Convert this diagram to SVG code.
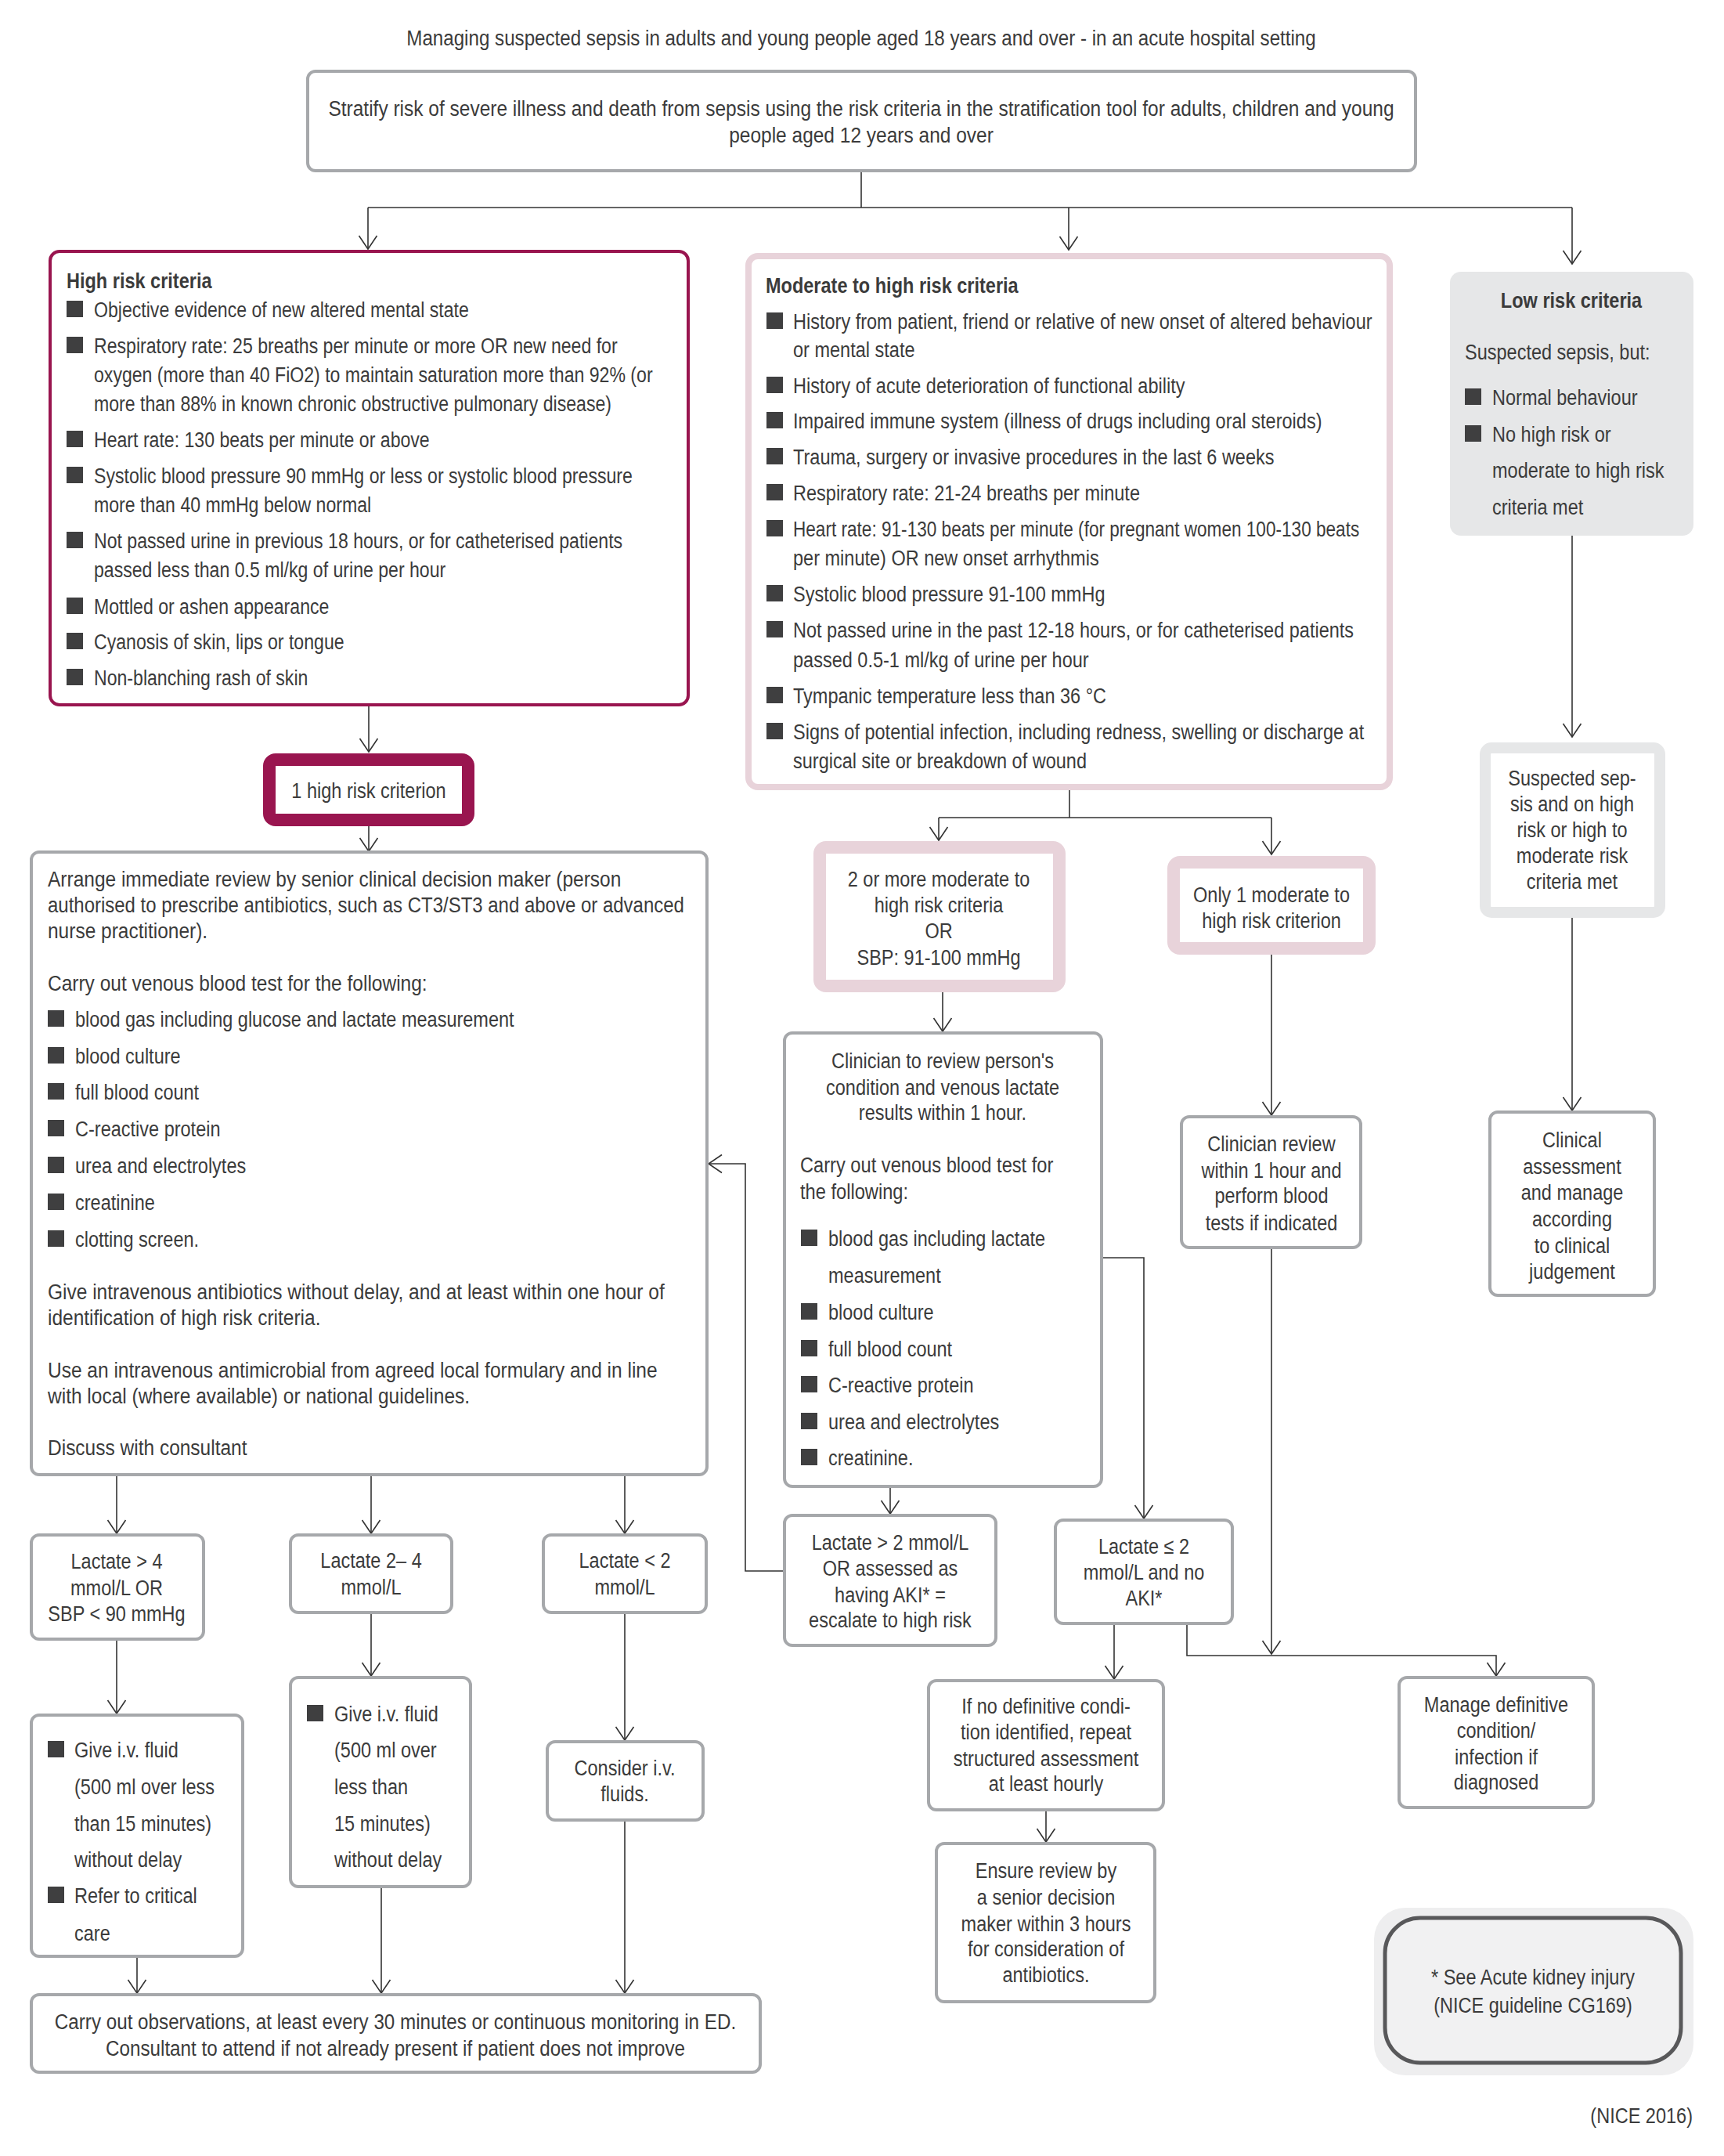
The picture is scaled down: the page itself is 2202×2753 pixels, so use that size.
<svg xmlns="http://www.w3.org/2000/svg" width="2202" height="2753" viewBox="0 0 2202 2753">
<style>
.t{font-family:"Liberation Sans",Arial,sans-serif;font-size:28px;fill:#3b3b3b}
.b{font-weight:bold}
.m{text-anchor:middle}
.e{text-anchor:end}
.box{fill:#fff;stroke:#a6a8ab;stroke-width:4}
.hr{fill:#fff;stroke:#99154f;stroke-width:4}
.hr2{fill:#fff;stroke:#99154f;stroke-width:16}
.pk{fill:#fff;stroke:#e8d3da;stroke-width:8}
.pk2{fill:#fff;stroke:#e8d3da;stroke-width:16}
.gy{fill:#fff;stroke:#e6e7e8;stroke-width:14}
.sq{fill:#3f3f40}
.ln{fill:none;stroke:#333;stroke-width:1.6}
.ar{fill:none;stroke:#333;stroke-width:1.6;marker-end:url(#ah)}
</style>
<defs>
<marker id="ah" viewBox="-19 -13 21 26" refX="0" refY="0" markerWidth="21" markerHeight="26" markerUnits="userSpaceOnUse" orient="auto">
<path d="M-17,-11.5 L0,0 L-17,11.5" fill="none" stroke="#333" stroke-width="1.6"/>
</marker>
</defs>
<rect width="2202" height="2753" fill="#fff"/>

<text class="t m" transform="translate(1100,58) scale(0.863,1)">Managing suspected sepsis in adults and young people aged 18 years and over - in an acute hospital setting</text>

<g id="connectors">
<path class="ln" d="M1100,219 V265 M470,265 H2008"/>
<path class="ar" d="M470,265 V318"/>
<path class="ar" d="M1365,265 V319"/>
<path class="ar" d="M2008,265 V337"/>
<path class="ar" d="M471,900 V960"/>
<path class="ar" d="M471,1055 V1087"/>
<path class="ar" d="M149,1884 V1958"/>
<path class="ar" d="M474,1884 V1958"/>
<path class="ar" d="M798,1884 V1958"/>
<path class="ar" d="M149,2093 V2188"/>
<path class="ar" d="M474,2059 V2140"/>
<path class="ar" d="M798,2059 V2222"/>
<path class="ar" d="M175,2498 V2545"/>
<path class="ar" d="M487,2409 V2545"/>
<path class="ar" d="M798,2324 V2545"/>
<path class="ln" d="M1366,1009 V1044 M1199,1044 H1624"/>
<path class="ar" d="M1199,1044 V1073"/>
<path class="ar" d="M1624,1044 V1091"/>
<path class="ar" d="M1204,1267 V1317"/>
<path class="ar" d="M1624,1219 V1424"/>
<path class="ar" d="M2008,684 V941"/>
<path class="ar" d="M2008,1172 V1418"/>
<path class="ar" d="M1407,1606 H1461 V1939"/>
<path class="ar" d="M1137,1898 V1933"/>
<path class="ar" d="M1002,2006 H952 V1486 H905"/>
<path class="ar" d="M1423,2073 V2144"/>
<path class="ar" d="M1516,2073 V2114 H1911 V2140"/>
<path class="ar" d="M1624,1593 V2112"/>
<path class="ar" d="M1336,2311 V2352"/>
</g>

<g id="stratify">
<rect class="box" x="393" y="91" width="1415" height="127" rx="10" stroke-width="4.5"/>
<text class="t m" transform="translate(1100,148) scale(0.875,1)"><tspan x="0" y="0">Stratify risk of severe illness and death from sepsis using the risk criteria in the stratification tool for adults, children and young</tspan><tspan x="0" y="34">people aged 12 years and over</tspan></text>
</g>

<g id="high-risk">
<rect class="hr" x="64" y="321" width="815" height="579" rx="12"/>
<text class="t b" transform="translate(85,368) scale(0.84,1)">High risk criteria</text>
<rect class="sq" x="85" y="384" width="21" height="21"/>
<rect class="sq" x="85" y="430" width="21" height="21"/>
<rect class="sq" x="85" y="550" width="21" height="21"/>
<rect class="sq" x="85" y="596" width="21" height="21"/>
<rect class="sq" x="85" y="679" width="21" height="21"/>
<rect class="sq" x="85" y="763" width="21" height="21"/>
<rect class="sq" x="85" y="808" width="21" height="21"/>
<rect class="sq" x="85" y="854" width="21" height="21"/>
<text class="t" transform="translate(120,405) scale(0.825,1)">Objective evidence of new altered mental state</text>
<text class="t" transform="translate(120,451) scale(0.825,1)"><tspan x="0" y="0">Respiratory rate: 25 breaths per minute or more OR new need for</tspan><tspan x="0" y="37">oxygen (more than 40 FiO2) to maintain saturation more than 92% (or</tspan><tspan x="0" y="74">more than 88% in known chronic obstructive pulmonary disease)</tspan></text>
<text class="t" transform="translate(120,571) scale(0.825,1)">Heart rate: 130 beats per minute or above</text>
<text class="t" transform="translate(120,617) scale(0.825,1)"><tspan x="0" y="0">Systolic blood pressure 90 mmHg or less or systolic blood pressure</tspan><tspan x="0" y="37">more than 40 mmHg below normal</tspan></text>
<text class="t" transform="translate(120,700) scale(0.825,1)"><tspan x="0" y="0">Not passed urine in previous 18 hours, or for catheterised patients</tspan><tspan x="0" y="37">passed less than 0.5 ml/kg of urine per hour</tspan></text>
<text class="t" transform="translate(120,784) scale(0.825,1)">Mottled or ashen appearance</text>
<text class="t" transform="translate(120,829) scale(0.825,1)">Cyanosis of skin, lips or tongue</text>
<text class="t" transform="translate(120,875) scale(0.825,1)">Non-blanching rash of skin</text>
</g>

<g id="one-high-risk">
<rect class="hr2" x="344" y="970" width="254" height="77" rx="8"/>
<text class="t m" transform="translate(471,1019) scale(0.84,1)">1 high risk criterion</text>
</g>

<g id="immediate-review">
<rect class="box" x="40" y="1088" width="863" height="795" rx="10"/>
<text class="t" transform="translate(61,1132) scale(0.875,1)"><tspan x="0" y="0">Arrange immediate review by senior clinical decision maker (person</tspan><tspan x="0" y="33" textLength="929" lengthAdjust="spacingAndGlyphs">authorised to prescribe antibiotics, such as CT3/ST3 and above or advanced</tspan><tspan x="0" y="66">nurse practitioner).</tspan><tspan x="0" y="133">Carry out venous blood test for the following:</tspan></text>
<rect class="sq" x="61" y="1290" width="21" height="21"/>
<rect class="sq" x="61" y="1337" width="21" height="21"/>
<rect class="sq" x="61" y="1383" width="21" height="21"/>
<rect class="sq" x="61" y="1430" width="21" height="21"/>
<rect class="sq" x="61" y="1477" width="21" height="21"/>
<rect class="sq" x="61" y="1524" width="21" height="21"/>
<rect class="sq" x="61" y="1571" width="21" height="21"/>
<text class="t" transform="translate(96,1311) scale(0.84,1)">blood gas including glucose and lactate measurement</text>
<text class="t" transform="translate(96,1358) scale(0.84,1)">blood culture</text>
<text class="t" transform="translate(96,1404) scale(0.84,1)">full blood count</text>
<text class="t" transform="translate(96,1451) scale(0.84,1)">C-reactive protein</text>
<text class="t" transform="translate(96,1498) scale(0.84,1)">urea and electrolytes</text>
<text class="t" transform="translate(96,1545) scale(0.84,1)">creatinine</text>
<text class="t" transform="translate(96,1592) scale(0.84,1)">clotting screen.</text>
<text class="t" transform="translate(61,1659) scale(0.875,1)"><tspan x="0" y="0">Give intravenous antibiotics without delay, and at least within one hour of</tspan><tspan x="0" y="33">identification of high risk criteria.</tspan><tspan x="0" y="100">Use an intravenous antimicrobial from agreed local formulary and in line</tspan><tspan x="0" y="133">with local (where available) or national guidelines.</tspan><tspan x="0" y="199">Discuss with consultant</tspan></text>
</g>

<g id="lactate-gt4">
<rect class="box" x="40" y="1960" width="220" height="133" rx="10"/>
<text class="t m" transform="translate(149,2003) scale(0.84,1)"><tspan x="0" y="0">Lactate &gt; 4</tspan><tspan x="0" y="34">mmol/L OR</tspan><tspan x="0" y="67">SBP &lt; 90 mmHg</tspan></text>
</g>
<g id="lactate-2-4">
<rect class="box" x="371" y="1960" width="206" height="99" rx="10"/>
<text class="t m" transform="translate(474,2002) scale(0.84,1)"><tspan x="0" y="0">Lactate 2– 4</tspan><tspan x="0" y="34">mmol/L</tspan></text>
</g>
<g id="lactate-lt2">
<rect class="box" x="694" y="1960" width="208" height="99" rx="10"/>
<text class="t m" transform="translate(798,2002) scale(0.84,1)"><tspan x="0" y="0">Lactate &lt; 2</tspan><tspan x="0" y="34">mmol/L</tspan></text>
</g>

<g id="fluid-critical">
<rect class="box" x="40" y="2190" width="270" height="308" rx="10"/>
<rect class="sq" x="61" y="2223" width="21" height="21"/>
<rect class="sq" x="61" y="2409" width="21" height="21"/>
<text class="t" transform="translate(95,2244) scale(0.84,1)"><tspan x="0" y="0">Give i.v. fluid</tspan><tspan x="0" y="47">(500 ml over less</tspan><tspan x="0" y="94">than 15 minutes)</tspan><tspan x="0" y="140">without delay</tspan><tspan x="0" y="186">Refer to critical</tspan><tspan x="0" y="234">care</tspan></text>
</g>
<g id="fluid">
<rect class="box" x="371" y="2142" width="230" height="267" rx="10"/>
<rect class="sq" x="392" y="2177" width="21" height="21"/>
<text class="t" transform="translate(427,2198) scale(0.84,1)"><tspan x="0" y="0">Give i.v. fluid</tspan><tspan x="0" y="46">(500 ml over</tspan><tspan x="0" y="93">less than</tspan><tspan x="0" y="140">15 minutes)</tspan><tspan x="0" y="186">without delay</tspan></text>
</g>
<g id="consider-fluids">
<rect class="box" x="699" y="2224" width="199" height="100" rx="10"/>
<text class="t m" transform="translate(798,2267) scale(0.84,1)"><tspan x="0" y="0">Consider i.v.</tspan><tspan x="0" y="33">fluids.</tspan></text>
</g>
<g id="observations">
<rect class="box" x="40" y="2547" width="931" height="99" rx="10"/>
<text class="t m" transform="translate(505,2591) scale(0.865,1)"><tspan x="0" y="0">Carry out observations, at least every 30 minutes or continuous monitoring in ED.</tspan><tspan x="0" y="34">Consultant to attend if not already present if patient does not improve</tspan></text>
</g>

<g id="moderate-risk">
<rect class="pk" x="956" y="327" width="819" height="678" rx="12"/>
<text class="t b" transform="translate(978,374) scale(0.84,1)">Moderate to high risk criteria</text>
<rect class="sq" x="979" y="399" width="21" height="21"/>
<rect class="sq" x="979" y="481" width="21" height="21"/>
<rect class="sq" x="979" y="526" width="21" height="21"/>
<rect class="sq" x="979" y="572" width="21" height="21"/>
<rect class="sq" x="979" y="618" width="21" height="21"/>
<rect class="sq" x="979" y="664" width="21" height="21"/>
<rect class="sq" x="979" y="747" width="21" height="21"/>
<rect class="sq" x="979" y="793" width="21" height="21"/>
<rect class="sq" x="979" y="877" width="21" height="21"/>
<rect class="sq" x="979" y="923" width="21" height="21"/>
<text class="t" transform="translate(1013,420) scale(0.84,1)"><tspan x="0" y="0">History from patient, friend or relative of new onset of altered behaviour</tspan><tspan x="0" y="36">or mental state</tspan></text>
<text class="t" transform="translate(1013,502) scale(0.84,1)">History of acute deterioration of functional ability</text>
<text class="t" transform="translate(1013,547) scale(0.84,1)">Impaired immune system (illness of drugs including oral steroids)</text>
<text class="t" transform="translate(1013,593) scale(0.84,1)">Trauma, surgery or invasive procedures in the last 6 weeks</text>
<text class="t" transform="translate(1013,639) scale(0.84,1)">Respiratory rate: 21-24 breaths per minute</text>
<text class="t" transform="translate(1013,685) scale(0.84,1)"><tspan x="0" y="0" textLength="861" lengthAdjust="spacingAndGlyphs">Heart rate: 91-130 beats per minute (for pregnant women 100-130 beats</tspan><tspan x="0" y="37">per minute) OR new onset arrhythmis</tspan></text>
<text class="t" transform="translate(1013,768) scale(0.84,1)">Systolic blood pressure 91-100 mmHg</text>
<text class="t" transform="translate(1013,814) scale(0.84,1)"><tspan x="0" y="0">Not passed urine in the past 12-18 hours, or for catheterised patients</tspan><tspan x="0" y="38">passed 0.5-1 ml/kg of urine per hour</tspan></text>
<text class="t" transform="translate(1013,898) scale(0.84,1)">Tympanic temperature less than 36 °C</text>
<text class="t" transform="translate(1013,944) scale(0.84,1)"><tspan x="0" y="0">Signs of potential infection, including redness, swelling or discharge at</tspan><tspan x="0" y="37">surgical site or breakdown of wound</tspan></text>
</g>

<g id="low-risk">
<rect x="1852" y="347" width="311" height="337" rx="14" fill="#e6e7e8"/>
<text class="t b m" transform="translate(2007,393) scale(0.84,1)">Low risk criteria</text>
<text class="t" transform="translate(1871,459) scale(0.84,1)">Suspected sepsis, but:</text>
<rect class="sq" x="1871" y="496" width="21" height="21"/>
<rect class="sq" x="1871" y="543" width="21" height="21"/>
<text class="t" transform="translate(1906,517) scale(0.84,1)">Normal behaviour</text>
<text class="t" transform="translate(1906,564) scale(0.84,1)"><tspan x="0" y="0">No high risk or</tspan><tspan x="0" y="46">moderate to high risk</tspan><tspan x="0" y="93">criteria met</tspan></text>
</g>

<g id="suspected-sepsis">
<rect class="gy" x="1897" y="955" width="223" height="210" rx="8"/>
<text class="t m" transform="translate(2008,1003) scale(0.84,1)"><tspan x="0" y="0">Suspected sep-</tspan><tspan x="0" y="33">sis and on high</tspan><tspan x="0" y="66">risk or high to</tspan><tspan x="0" y="99">moderate risk</tspan><tspan x="0" y="132">criteria met</tspan></text>
</g>

<g id="clinical-assessment">
<rect class="box" x="1903" y="1420" width="210" height="234" rx="10"/>
<text class="t m" transform="translate(2008,1465) scale(0.84,1)"><tspan x="0" y="0">Clinical</tspan><tspan x="0" y="34">assessment</tspan><tspan x="0" y="67">and manage</tspan><tspan x="0" y="101">according</tspan><tspan x="0" y="135">to clinical</tspan><tspan x="0" y="168">judgement</tspan></text>
</g>

<g id="two-or-more">
<rect class="pk2" x="1047" y="1082" width="306" height="177" rx="8"/>
<text class="t m" transform="translate(1199,1132) scale(0.84,1)"><tspan x="0" y="0">2 or more moderate to</tspan><tspan x="0" y="33">high risk criteria</tspan><tspan x="0" y="66">OR</tspan><tspan x="0" y="100">SBP: 91-100 mmHg</tspan></text>
</g>

<g id="only-one">
<rect class="pk2" x="1499" y="1101" width="250" height="110" rx="8"/>
<text class="t m" transform="translate(1624,1152) scale(0.84,1)"><tspan x="0" y="0">Only 1 moderate to</tspan><tspan x="0" y="33">high risk criterion</tspan></text>
</g>

<g id="clinician-review-lactate">
<rect class="box" x="1002" y="1319" width="405" height="579" rx="10"/>
<text class="t m" transform="translate(1204,1364) scale(0.84,1)"><tspan x="0" y="0">Clinician to review person's</tspan><tspan x="0" y="34">condition and venous lactate</tspan><tspan x="0" y="66">results within 1 hour.</tspan></text>
<text class="t" transform="translate(1022,1497) scale(0.845,1)"><tspan x="0" y="0">Carry out venous blood test for</tspan><tspan x="0" y="34">the following:</tspan></text>
<rect class="sq" x="1023" y="1570" width="21" height="21"/>
<rect class="sq" x="1023" y="1664" width="21" height="21"/>
<rect class="sq" x="1023" y="1711" width="21" height="21"/>
<rect class="sq" x="1023" y="1757" width="21" height="21"/>
<rect class="sq" x="1023" y="1804" width="21" height="21"/>
<rect class="sq" x="1023" y="1850" width="21" height="21"/>
<text class="t" transform="translate(1058,1591) scale(0.84,1)"><tspan x="0" y="0">blood gas including lactate</tspan><tspan x="0" y="47">measurement</tspan></text>
<text class="t" transform="translate(1058,1685) scale(0.84,1)">blood culture</text>
<text class="t" transform="translate(1058,1732) scale(0.84,1)">full blood count</text>
<text class="t" transform="translate(1058,1778) scale(0.84,1)">C-reactive protein</text>
<text class="t" transform="translate(1058,1825) scale(0.84,1)">urea and electrolytes</text>
<text class="t" transform="translate(1058,1871) scale(0.84,1)">creatinine.</text>
</g>

<g id="clinician-review-1h">
<rect class="box" x="1509" y="1426" width="229" height="167" rx="10"/>
<text class="t m" transform="translate(1624,1470) scale(0.84,1)"><tspan x="0" y="0">Clinician review</tspan><tspan x="0" y="34">within 1 hour and</tspan><tspan x="0" y="66">perform blood</tspan><tspan x="0" y="101">tests if indicated</tspan></text>
</g>

<g id="lactate-gt2">
<rect class="box" x="1002" y="1935" width="270" height="166" rx="10"/>
<text class="t m" transform="translate(1137,1979) scale(0.84,1)"><tspan x="0" y="0">Lactate &gt; 2 mmol/L</tspan><tspan x="0" y="33">OR assessed as</tspan><tspan x="0" y="67">having AKI* =</tspan><tspan x="0" y="99">escalate to high risk</tspan></text>
</g>

<g id="lactate-le2">
<rect class="box" x="1348" y="1941" width="226" height="132" rx="10"/>
<text class="t m" transform="translate(1461,1984) scale(0.84,1)"><tspan x="0" y="0">Lactate ≤ 2</tspan><tspan x="0" y="33">mmol/L and no</tspan><tspan x="0" y="66">AKI*</tspan></text>
</g>

<g id="no-definitive">
<rect class="box" x="1186" y="2146" width="300" height="165" rx="10"/>
<text class="t m" transform="translate(1336,2188) scale(0.84,1)"><tspan x="0" y="0">If no definitive condi-</tspan><tspan x="0" y="33">tion identified, repeat</tspan><tspan x="0" y="67">structured assessment</tspan><tspan x="0" y="99">at least hourly</tspan></text>
</g>

<g id="ensure-review">
<rect class="box" x="1196" y="2354" width="279" height="202" rx="10"/>
<text class="t m" transform="translate(1336,2398) scale(0.84,1)"><tspan x="0" y="0">Ensure review by</tspan><tspan x="0" y="34">a senior decision</tspan><tspan x="0" y="68">maker within 3 hours</tspan><tspan x="0" y="100">for consideration of</tspan><tspan x="0" y="133">antibiotics.</tspan></text>
</g>

<g id="manage-definitive">
<rect class="box" x="1787" y="2142" width="248" height="166" rx="10"/>
<text class="t m" transform="translate(1911,2186) scale(0.84,1)"><tspan x="0" y="0">Manage definitive</tspan><tspan x="0" y="33">condition/</tspan><tspan x="0" y="67">infection if</tspan><tspan x="0" y="99">diagnosed</tspan></text>
</g>

<g id="footnote">
<rect x="1755" y="2436" width="408" height="214" rx="40" fill="#eeeeef"/>
<rect x="1769" y="2449" width="378" height="185" rx="45" fill="#f1f1f2" stroke="#58585a" stroke-width="5"/>
<text class="t m" transform="translate(1958,2534) scale(0.84,1)"><tspan x="0" y="0">* See Acute kidney injury</tspan><tspan x="0" y="36">(NICE guideline CG169)</tspan></text>
</g>

<text class="t e" transform="translate(2162,2711) scale(0.84,1)">(NICE 2016)</text>
</svg>
